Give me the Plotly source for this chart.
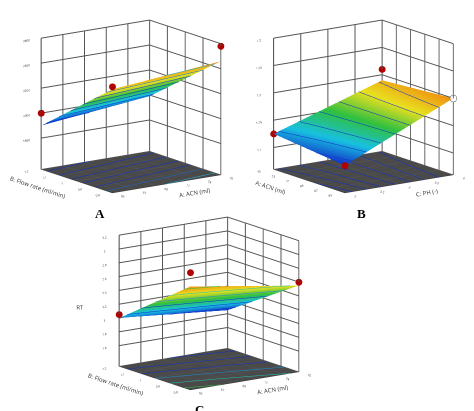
import plotly.graph_objects as go

# factor levels
acn = [65, 75]
flow = [0.8, 1.2]
ph = [2, 4]

# fitted surface corner values, rows = second factor, cols = first factor
tf_surface = [[2380, 2460], [1900, 1990]]          # rows flow 0.8, 1.2 ; cols acn 65, 75
tailing_surface = [[1.11, 1.20], [1.125, 1.19]]    # rows acn 65, 75 ; cols ph 2, 4
rt_surface = [[2.8, 2.55], [2.0, 1.85]]            # rows flow 0.8, 1.2 ; cols acn 65, 75

# design points
tf_pts_x, tf_pts_y, tf_pts_z = [65, 65, 75], [1.2, 0.8, 0.8], [2000, 2400, 2580]
tail_pts_x, tail_pts_y, tail_pts_z = [2, 2, 4], [75, 65, 75], [1.125, 1.11, 1.21]
tail_white_x, tail_white_y, tail_white_z = [4], [65], [1.2]
rt_pts_x, rt_pts_y, rt_pts_z = [65, 65, 75], [1.2, 0.8, 0.8], [2.05, 3.0, 2.6]

cs = [[0, "#1030c8"], [0.25, "#18c0e0"], [0.5, "#30c040"], [0.75, "#e8e020"], [1, "#f09010"]]


def lin(vals, n=25):
    return [vals[0] + (vals[1] - vals[0]) * i / (n - 1) for i in range(n)]


def bilinear(xs, ys, corners):
    xx, yy = lin(xs), lin(ys)
    z = []
    for y in yy:
        ty = (y - ys[0]) / (ys[1] - ys[0])
        row = []
        for x in xx:
            tx = (x - xs[0]) / (xs[1] - xs[0])
            a = corners[0][0] * (1 - tx) + corners[0][1] * tx
            b = corners[1][0] * (1 - tx) + corners[1][1] * tx
            row.append(a * (1 - ty) + b * ty)
        z.append(row)
    return xx, yy, z


fig = go.Figure()


def add_panel(scene, xs, ys, corners, px, py, pz, step):
    xx, yy, z = bilinear(xs, ys, corners)
    zmin = min(min(r) for r in z)
    zmax = max(max(r) for r in z)
    fig.add_trace(go.Surface(x=xx, y=yy, z=z, colorscale=cs, showscale=False, scene=scene,
                             lighting=dict(ambient=1, diffuse=0, specular=0, fresnel=0),
                             contours=dict(
                                 z=dict(show=True, project_z=True, usecolormap=True, width=2,
                                        start=zmin + step / 2, end=zmax, size=step))))
    fig.add_trace(go.Scatter3d(x=px, y=py, z=pz, mode="markers", scene=scene,
                               marker=dict(size=4, color="#b00000")))


add_panel("scene", acn, flow, tf_surface, tf_pts_x, tf_pts_y, tf_pts_z, 80)
add_panel("scene2", ph, acn, tailing_surface, tail_pts_x, tail_pts_y, tail_pts_z, 0.012)
fig.add_trace(go.Scatter3d(x=tail_white_x, y=tail_white_y, z=tail_white_z, mode="markers", scene="scene2",
                           marker=dict(size=4, color="white", line=dict(color="#555", width=1))))
add_panel("scene3", acn, flow, rt_surface, rt_pts_x, rt_pts_y, rt_pts_z, 0.16)

cam = dict(eye=dict(x=-1.1, y=-1.55, z=0.46), center=dict(x=0, y=0, z=0),
           projection=dict(type="orthographic"))


def axis(title, rng, tv, floor=False):
    return dict(showbackground=floor, backgroundcolor="#4a4a4a", gridcolor="#555",
                linecolor="#333", showline=True, zeroline=False, range=rng, tickvals=tv,
                tickfont=dict(size=6, family="Open Sans", color="#333"),
                title=dict(text=title, font=dict(size=6, family="Open Sans", color="#333")))


def scene(domx, domy, xt, yt, zt, xr, yr, zr, xtv, ytv, ztv):
    return dict(domain=dict(x=domx, y=domy), camera=cam, aspectmode="manual",
                aspectratio=dict(x=1.35, y=1.25, z=1.37),
                xaxis=axis(xt, xr, xtv), yaxis=axis(yt, yr, ytv), zaxis=axis(zt, zr, ztv, True))


fig.update_layout(
    width=474, height=411, paper_bgcolor="white", showlegend=False,
    margin=dict(l=0, r=0, t=0, b=0),
    scene=scene([0, 0.52], [0.52, 1], "A: ACN (ml)", "B: Flow rate (ml/min)", "TF",
                [65, 75], [0.8, 1.2], [1550, 2600], [65, 67, 69, 71, 73, 75],
                [0.8, 0.9, 1, 1.1, 1.2], [1800, 2000, 2200, 2400, 2600]),
    scene2=scene([0.5, 1], [0.52, 1], "C: PH (-)", "A: ACN (ml)", "Tailing",
                 [2, 4], [65, 75], [1.06, 1.3], [2, 2.5, 3, 3.5, 4],
                 [65, 67, 69, 71, 73, 75], [1.1, 1.15, 1.2, 1.25, 1.3]),
    scene3=scene([0.1, 0.75], [0.04, 0.52], "A: ACN (ml)", "B: Flow rate (ml/min)", "RT",
                 [65, 75], [0.8, 1.2], [1.3, 3.2], [65, 67, 69, 71, 73, 75],
                 [0.8, 0.9, 1, 1.1, 1.2], [1.6, 1.8, 2, 2.2, 2.4, 2.6, 2.8, 3, 3.2]),
    annotations=[
        dict(text="<b>A</b>", x=0.18, y=0.5, xref="paper", yref="paper", showarrow=False,
             font=dict(size=13, family="Liberation Serif", color="black")),
        dict(text="<b>B</b>", x=0.76, y=0.5, xref="paper", yref="paper", showarrow=False,
             font=dict(size=13, family="Liberation Serif", color="black")),
        dict(text="<b>C</b>", x=0.405, y=0.0, xref="paper", yref="paper", showarrow=False,
             font=dict(size=13, family="Liberation Serif", color="black")),
    ],
)

fig.write_html("out.html")
